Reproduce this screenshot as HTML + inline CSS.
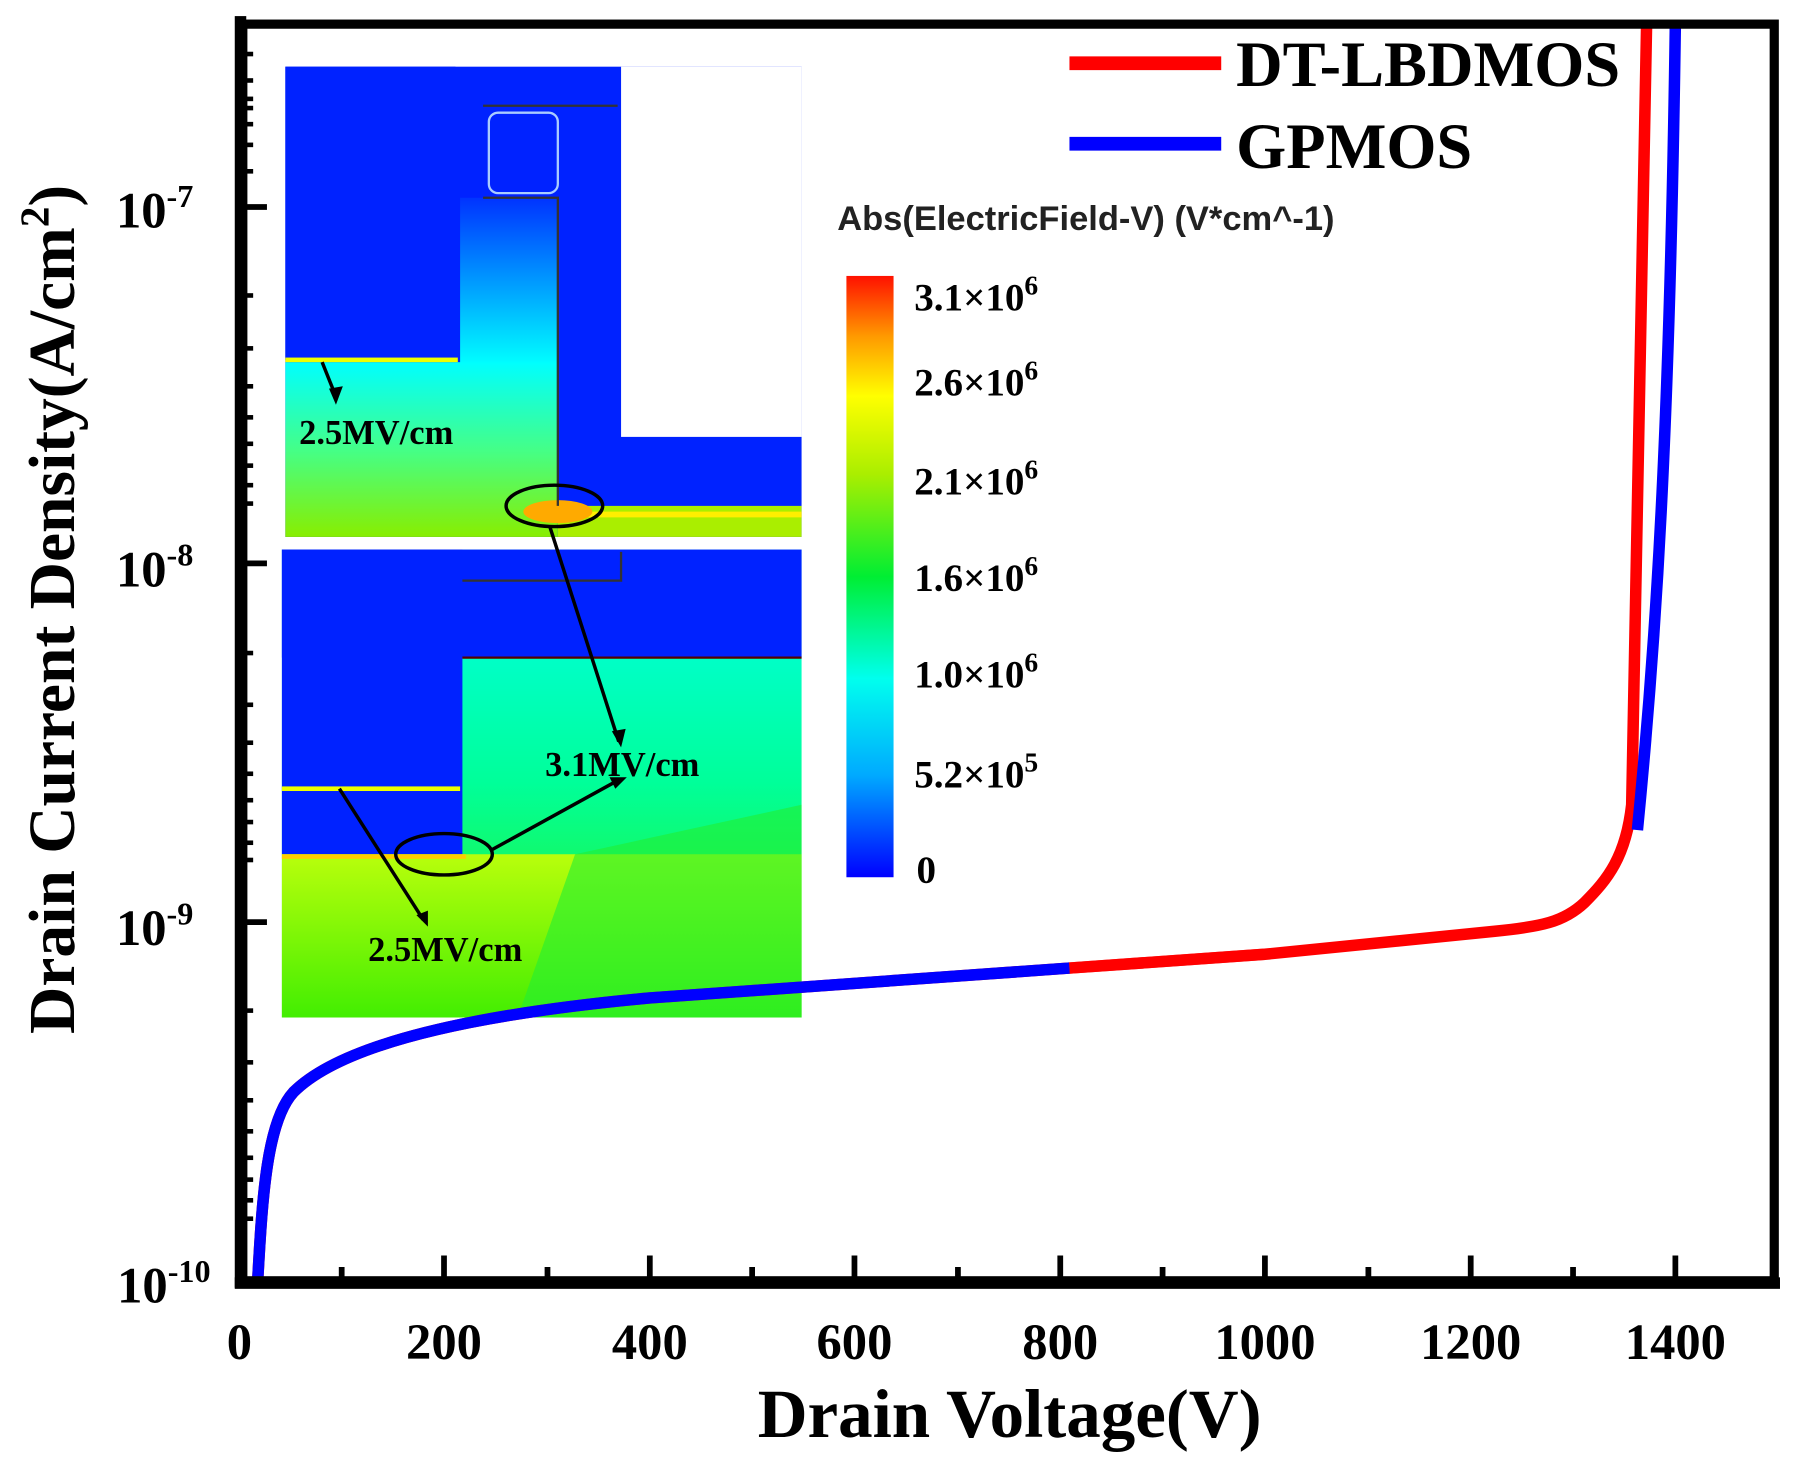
<!DOCTYPE html>
<html><head><meta charset="utf-8"><style>
html,body{margin:0;padding:0;background:#fff;}
svg{display:block;}
text{font-family:"Liberation Serif",serif;font-weight:bold;}
</style></head><body>
<svg width="1794" height="1459" viewBox="0 0 1560 1269" xmlns="http://www.w3.org/2000/svg">
<defs>
<linearGradient id="cb" x1="0" y1="1" x2="0" y2="0">
<stop offset="0" stop-color="#0000ff"/><stop offset="0.17" stop-color="#00aaff"/><stop offset="0.33" stop-color="#00ffee"/><stop offset="0.5" stop-color="#00ee33"/><stop offset="0.67" stop-color="#aaee00"/><stop offset="0.8" stop-color="#ffff00"/><stop offset="0.9" stop-color="#ff9900"/><stop offset="1" stop-color="#ff1100"/>
</linearGradient>
<linearGradient id="f1" x1="0" y1="0" x2="0" y2="1">
<stop offset="0" stop-color="#00ffff"/><stop offset="0.5" stop-color="#44ff88"/><stop offset="1" stop-color="#88ee00"/>
</linearGradient>
<linearGradient id="col" x1="0" y1="0" x2="0" y2="1">
<stop offset="0" stop-color="#0033ff"/><stop offset="0.5" stop-color="#0099ff"/><stop offset="1" stop-color="#00ffff"/>
</linearGradient>
<linearGradient id="f2" x1="0" y1="0" x2="0" y2="1">
<stop offset="0" stop-color="#00ffee"/><stop offset="0.5" stop-color="#00ff99"/><stop offset="1" stop-color="#33ee11"/>
</linearGradient>
<linearGradient id="f3" x1="0" y1="0" x2="0" y2="1">
<stop offset="0" stop-color="#ccff00"/><stop offset="1" stop-color="#44ee00"/>
</linearGradient>
</defs>

<!-- top inset -->
<rect x="248" y="58" width="449" height="409" fill="#0022ff"/>
<rect x="540" y="58" width="157" height="322" fill="#fff"/>
<rect x="400" y="172" width="85" height="145" fill="url(#col)"/>
<rect x="248" y="315" width="237" height="152" fill="url(#f1)"/>
<rect x="485" y="440" width="212" height="27" fill="#aaee00"/>
<rect x="248" y="58" width="148" height="255" fill="#0022ff"/>
<rect x="248" y="311" width="150" height="4" fill="#eeff00"/>
<rect x="485" y="445" width="212" height="5" fill="#ffee00"/>
<ellipse cx="485" cy="445" rx="30" ry="10" fill="#ffaa00"/>
<path d="M420 92 L537 92 M420 172 L485 172 L485 440" stroke="#333" stroke-width="2" fill="none"/>
<rect x="425" y="98" width="60" height="70" rx="8" fill="none" stroke="#aaccff" stroke-width="2"/>
<ellipse cx="482" cy="440" rx="42" ry="18" fill="none" stroke="#000" stroke-width="3"/>

<!-- bottom inset -->
<rect x="245" y="478" width="452" height="407" fill="url(#f2)"/>
<rect x="245" y="478" width="452" height="94" fill="#0022ff"/>
<rect x="245" y="478" width="157" height="265" fill="#0022ff"/>
<rect x="245" y="684" width="155" height="4" fill="#eeff00"/>
<rect x="245" y="743" width="452" height="142" fill="url(#f3)" opacity="0.9"/>
<path d="M500 743 L697 700 L697 885 L450 885Z" fill="#22ee33" opacity="0.6"/>
<rect x="245" y="743" width="160" height="4" fill="#ffcc00"/>
<path d="M402 572 L697 572" stroke="#550000" stroke-width="2"/>
<path d="M402 505 L540 505 L540 480" stroke="#333" stroke-width="2" fill="none"/>
<ellipse cx="386" cy="743" rx="42" ry="18" fill="none" stroke="#000" stroke-width="3"/>

<!-- annotations -->
<g stroke="#000" stroke-width="3" fill="none">
<line x1="280" y1="315" x2="292" y2="345"/>
<line x1="478" y1="458" x2="538" y2="645"/>
<line x1="426" y1="740" x2="535" y2="680"/>
<line x1="295" y1="686" x2="368" y2="800"/>
</g>
<g fill="#000">
<polygon points="292,352 286,338 298,336"/>
<polygon points="540,650 532,636 544,634"/>
<polygon points="545,676 530,676 535,686"/>
<polygon points="372,806 362,796 372,792"/>
</g>
<text x="260" y="386" font-size="30">2.5MV/cm</text>
<text x="474" y="675" font-size="30">3.1MV/cm</text>
<text x="320" y="836" font-size="30">2.5MV/cm</text>

<!-- colorbar -->
<text x="728" y="200" font-size="30" fill="#222" style="font-family:'Liberation Sans',sans-serif;font-weight:bold">Abs(ElectricField-V) (V*cm^-1)</text>
<rect x="736" y="240" width="41" height="523" fill="url(#cb)"/>
<g font-size="34">
<text x="795" y="270">3.1×10<tspan dy="-14" font-size="24">6</tspan></text>
<text x="795" y="344">2.6×10<tspan dy="-14" font-size="24">6</tspan></text>
<text x="795" y="430">2.1×10<tspan dy="-14" font-size="24">6</tspan></text>
<text x="795" y="514">1.6×10<tspan dy="-14" font-size="24">6</tspan></text>
<text x="795" y="598">1.0×10<tspan dy="-14" font-size="24">6</tspan></text>
<text x="795" y="685">5.2×10<tspan dy="-14" font-size="24">5</tspan></text>
<text x="797" y="768">0</text>
</g>

<!-- curves -->
<path d="M224 1113 C228 1040, 232 975, 255 950 C290 915, 380 885, 565 868 L930 842 L1100 830 L1300 810 C1340 806, 1360 802, 1378 785 C1398 765, 1414 745, 1419 700 L1432 20" fill="none" stroke="#ff0000" stroke-width="10"/>
<path d="M224 1113 C228 1040, 232 975, 255 950 C290 915, 380 885, 565 868 L930 842" fill="none" stroke="#0000ff" stroke-width="10"/>
<path d="M1424 722 C1440 560, 1452 380, 1457 20" fill="none" stroke="#0000ff" stroke-width="10"/>
<path d="M930 842 L1100 830" fill="none" stroke="#ff0000" stroke-width="10" opacity="0.7"/>

<!-- legend -->
<line x1="930" y1="55" x2="1062" y2="55" stroke="#ff0000" stroke-width="12"/>
<line x1="930" y1="125" x2="1062" y2="125" stroke="#0000ff" stroke-width="12"/>
<text x="1075" y="75" font-size="56">DT-LBDMOS</text>
<text x="1075" y="146" font-size="56">GPMOS</text>

<!-- frame -->
<rect x="211" y="21" width="1332" height="1093" fill="none" stroke="#000" stroke-width="8"/>
<rect x="204" y="14" width="10" height="1106" fill="#000"/>
<rect x="204" y="1111" width="1344" height="10" fill="#000"/>
<g stroke="#000" stroke-width="5">
<line x1="208" y1="180" x2="232" y2="180"/><line x1="208" y1="490" x2="232" y2="490"/><line x1="208" y1="802" x2="232" y2="802"/>
</g>
<g stroke="#000" stroke-width="4">
<line x1="208" y1="22" x2="220" y2="22"/><line x1="208" y1="47" x2="220" y2="47"/><line x1="208" y1="70" x2="220" y2="70"/><line x1="208" y1="86" x2="220" y2="86"/><line x1="208" y1="126" x2="220" y2="126"/><line x1="208" y1="94" x2="220" y2="94"/><line x1="208" y1="108" x2="220" y2="108"/><line x1="208" y1="149" x2="220" y2="149"/>
<line x1="208" y1="257" x2="220" y2="257"/><line x1="208" y1="303" x2="220" y2="303"/><line x1="208" y1="336" x2="220" y2="336"/><line x1="208" y1="363" x2="220" y2="363"/><line x1="208" y1="386" x2="220" y2="386"/><line x1="208" y1="405" x2="220" y2="405"/><line x1="208" y1="422" x2="220" y2="422"/><line x1="208" y1="438" x2="220" y2="438"/>
<line x1="208" y1="568" x2="220" y2="568"/><line x1="208" y1="613" x2="220" y2="613"/><line x1="208" y1="646" x2="220" y2="646"/><line x1="208" y1="673" x2="220" y2="673"/><line x1="208" y1="696" x2="220" y2="696"/><line x1="208" y1="715" x2="220" y2="715"/><line x1="208" y1="733" x2="220" y2="733"/><line x1="208" y1="748" x2="220" y2="748"/>
<line x1="208" y1="879" x2="220" y2="879"/><line x1="208" y1="924" x2="220" y2="924"/><line x1="208" y1="957" x2="220" y2="957"/><line x1="208" y1="984" x2="220" y2="984"/><line x1="208" y1="1007" x2="220" y2="1007"/><line x1="208" y1="1026" x2="220" y2="1026"/><line x1="208" y1="1044" x2="220" y2="1044"/><line x1="208" y1="1060" x2="220" y2="1060"/>
</g>
<g stroke="#000" stroke-width="5">
<line x1="386" y1="1112" x2="386" y2="1092"/><line x1="565" y1="1112" x2="565" y2="1092"/><line x1="743" y1="1112" x2="743" y2="1092"/><line x1="922" y1="1112" x2="922" y2="1092"/><line x1="1100" y1="1112" x2="1100" y2="1092"/><line x1="1279" y1="1112" x2="1279" y2="1092"/><line x1="1457" y1="1112" x2="1457" y2="1092"/>
<line x1="297" y1="1112" x2="297" y2="1102"/><line x1="476" y1="1112" x2="476" y2="1102"/><line x1="654" y1="1112" x2="654" y2="1102"/><line x1="833" y1="1112" x2="833" y2="1102"/><line x1="1011" y1="1112" x2="1011" y2="1102"/><line x1="1190" y1="1112" x2="1190" y2="1102"/><line x1="1368" y1="1112" x2="1368" y2="1102"/>
</g>

<!-- tick labels -->
<g font-size="44" text-anchor="middle">
<text x="208" y="1182">0</text><text x="386" y="1182">200</text><text x="565" y="1182">400</text><text x="743" y="1182">600</text><text x="922" y="1182">800</text><text x="1100" y="1182">1000</text><text x="1279" y="1182">1200</text><text x="1457" y="1182">1400</text>
</g>
<g font-size="44" text-anchor="end">
<text x="168" y="198">10<tspan dy="-18" font-size="28">-7</tspan></text>
<text x="168" y="510">10<tspan dy="-18" font-size="28">-8</tspan></text>
<text x="168" y="822">10<tspan dy="-18" font-size="28">-9</tspan></text>
<text x="183" y="1133">10<tspan dy="-18" font-size="28">-10</tspan></text>
</g>
<text x="878" y="1250" font-size="60" text-anchor="middle">Drain Voltage(V)</text>
<text transform="translate(64,530) rotate(-90)" font-size="57" text-anchor="middle">Drain Current Density(A/cm<tspan dy="-22" font-size="36">2</tspan><tspan dy="22">)</tspan></text>
</svg>
</body></html>
